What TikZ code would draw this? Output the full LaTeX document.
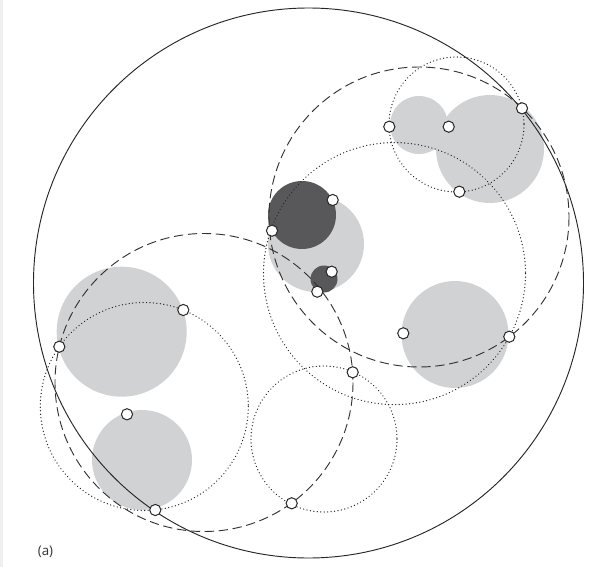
\documentclass[tikz,border=0pt]{standalone}
\usepackage{fontspec}
\setsansfont{Open Sans}
\definecolor{DiscLight}{RGB}{209,210,212}
\definecolor{DiscDark}{RGB}{88,88,90}
\tikzset{
  every node/.style={
    font=\sffamily\normalsize
  },
  disc/.style={
    fill=#1,
    draw=none
  },
  marker/.style={
    shape=circle,
    draw=black!85,
    fill=white,
    line width=0.75pt,
    inner sep=0pt,
    minimum size=8.4pt
  },
  outer ring/.style={
    draw=black!85,
    line width=0.7pt
  },
  reach ring/.style={
    draw=black!80,
    line width=0.7pt,
    dash pattern=on 7pt off 3.5pt
  },
  probe ring/.style={
    draw=black!85,
    line width=0.95pt,
    dash pattern=on 0.1pt off 2.5pt,
    line cap=round
  }
}

\begin{document}
\begin{tikzpicture}[x=0.75pt,y=-0.75pt]
  \useasboundingbox (0,0) rectangle (604,567);
  \fill[black!6] (0,0) rectangle (2.5,567);
  % grey discs
  \path[disc=DiscLight] (419,125) circle (29);
  \path[disc=DiscLight] (490,149) circle (54);
  \path[disc=DiscLight] (316,244) circle (48);
  \path[disc=DiscLight] (455,334.5) circle (53.5);
  \path[disc=DiscLight] (121.7,331.7) circle (65);
  \path[disc=DiscLight] (142,460) circle (50);
  \path[disc=DiscDark] (302,215) circle (34);
  \path[disc=DiscDark] (324,279) circle (13.5);
  % outer boundary
  \path[outer ring] (308.5,283) circle (275);
  % dashed circles
  \path[reach ring] (419,217) circle (150);
  \path[reach ring] (204,382.5) circle (149);
  % dotted circles
  \path[probe ring] (456.5,124.5) circle (67.5);
  \path[probe ring] (394.5,273.6) circle (131);
  \path[probe ring] (144.3,406.5) circle (104);
  \path[probe ring] (324,439) circle (73);
  % points
  \node[marker] (p1) at (389.3,126.7) {};
  \node[marker] (p2) at (448.7,126.7) {};
  \node[marker] (p3) at (522,108.3) {};
  \node[marker] (p4) at (459.3,191.7) {};
  \node[marker] (p5) at (332.7,200) {};
  \node[marker] (p6) at (272,230.7) {};
  \node[marker] (p7) at (331.7,271.7) {};
  \node[marker] (p8) at (317.3,291.7) {};
  \node[marker] (p9) at (183.3,310) {};
  \node[marker] (p10) at (59.3,346.7) {};
  \node[marker] (p11) at (403.3,333.3) {};
  \node[marker] (p12) at (509.3,336.7) {};
  \node[marker] (p13) at (352.7,372.3) {};
  \node[marker] (p14) at (127,414.3) {};
  \node[marker] (p15) at (155.3,510) {};
  \node[marker] (p16) at (291.7,503.3) {};
  \node[text=black!80] (tag) at (45.5,552) {(a)};
\end{tikzpicture}
\end{document}
